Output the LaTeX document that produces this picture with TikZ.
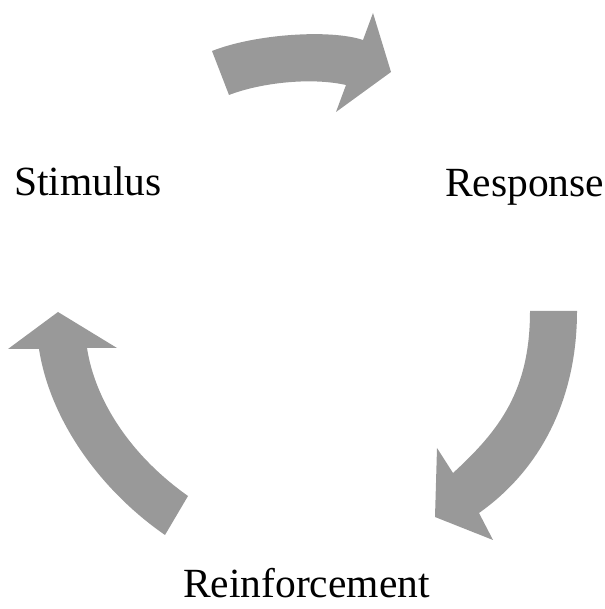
\documentclass[tikz,border=0pt]{standalone}
\usepackage{fontspec}
\setmainfont{Liberation Serif}
\begin{document}
\begin{tikzpicture}[x=1pt,y=1pt,
  label/.style={inner sep=0pt,anchor=base west,font=\fontsize{41.5}{50}\selectfont},
  cyclearrow/.style={fill=black!40,draw=none}]
\useasboundingbox (0,0) rectangle (604,609);
% top arrow: Stimulus -> Response
\fill[cyclearrow] (212,558) .. controls (255,575) and (330,580) .. (363,569)
  -- (373,596) -- (391,537) -- (336,497) -- (346,524)
  .. controls (310,532) and (260,526) .. (229,514) -- cycle;
% right arrow: Response -> Reinforcement
\fill[cyclearrow] (530,298) -- (577,298)
  .. controls (577,209) and (540,139) .. (479,96)
  -- (493,69) -- (435,92) -- (437,161) -- (453,136)
  .. controls (500,179) and (530,219) .. (530,298) -- cycle;
% left arrow: Reinforcement -> Stimulus
\fill[cyclearrow] (58,297) -- (117,261) -- (87,261)
  .. controls (95,209) and (130,154) .. (188,113)
  -- (165,74)
  .. controls (100,119) and (50,189) .. (39,260)
  -- (8,260) -- cycle;
\node[label] (stim) at (14,413) {Stimulus};
\node[label] (resp) at (445,412) {Response};
\node[label] (reinf) at (183,11) {Reinforcement};
\end{tikzpicture}
\end{document}
